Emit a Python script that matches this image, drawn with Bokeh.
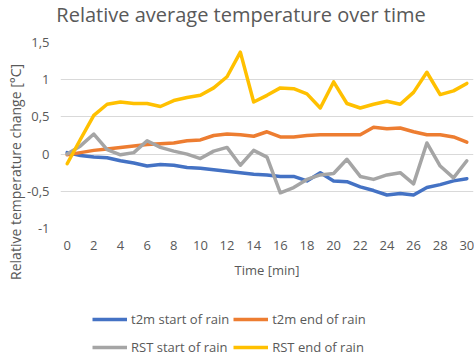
from bokeh.plotting import figure
from bokeh.layouts import column
from bokeh.models import Range1d, FixedTicker, CustomJSTickFormatter, Legend, LegendItem, Title
from bokeh.embed import file_html
from bokeh.resources import INLINE

minutes = list(range(31))
t2m_start = [0.02, -0.02, -0.04, -0.05, -0.09, -0.12, -0.16, -0.14, -0.15, -0.18, -0.19,
             -0.21, -0.23, -0.25, -0.27, -0.28, -0.30, -0.30, -0.36, -0.25, -0.36,
             -0.37, -0.44, -0.49, -0.55, -0.53, -0.55, -0.45, -0.41, -0.36, -0.33]
t2m_end = [-0.01, 0.02, 0.05, 0.07, 0.09, 0.11, 0.13, 0.14, 0.15, 0.18, 0.19,
           0.25, 0.27, 0.26, 0.24, 0.30, 0.23, 0.23, 0.25, 0.26, 0.26,
           0.26, 0.26, 0.36, 0.34, 0.35, 0.30, 0.26, 0.26, 0.23, 0.16]
rst_start = [0.00, 0.11, 0.27, 0.06, -0.01, 0.02, 0.18, 0.09, 0.04, 0.00, -0.06,
             0.04, 0.09, -0.15, 0.05, -0.04, -0.52, -0.45, -0.34, -0.28, -0.26,
             -0.07, -0.30, -0.34, -0.28, -0.25, -0.40, 0.15, -0.16, -0.32, -0.09]
rst_end = [-0.13, 0.20, 0.52, 0.67, 0.70, 0.68, 0.68, 0.64, 0.72, 0.76, 0.79,
           0.89, 1.04, 1.37, 0.70, 0.79, 0.89, 0.88, 0.81, 0.62, 0.97,
           0.68, 0.62, 0.67, 0.71, 0.67, 0.83, 1.10, 0.80, 0.85, 0.95]

series_names = ["t2m start of rain", "t2m end of rain", "RST start of rain", "RST end of rain"]
series_values = [t2m_start, t2m_end, rst_start, rst_end]
series_colors = ["#4472C4", "#ED7D31", "#A5A5A5", "#FFC000"]

x_ticks = list(range(0, 31, 2))
y_ticks = [-1, -0.5, 0, 0.5, 1, 1.5]

title_text = "Relative average temperature over time"
x_label = "Time [min]"
y_label = "Relative temperature change [°C]"

FONT = "Open Sans"
TXT = "#595959"
NB = "\u00a0"
W = 474

# ---- title strip ----
tp = figure(width=W, height=34, output_backend="svg", toolbar_location=None,
            x_range=Range1d(0, 1), y_range=Range1d(0, 1),
            x_axis_location=None, y_axis_location=None,
            min_border_left=0, min_border_right=0, min_border_top=0, min_border_bottom=0)
tp.grid.visible = False
tp.outline_line_color = None
tp.title.text = title_text + NB * 10
tp.title.align = "center"
tp.title.vertical_align = "top"
tp.title.standoff = 0
tp.title.text_font = FONT
tp.title.text_font_size = "20px"
tp.title.text_font_style = "normal"
tp.title.text_color = TXT

# ---- main chart ----
p = figure(width=W, height=256, output_backend="svg", toolbar_location=None,
           x_range=Range1d(-0.5, 30.5), y_range=Range1d(-1, 1.5),
           min_border_left=60, min_border_right=1, min_border_top=8, min_border_bottom=62)
p.outline_line_color = None
p.background_fill_color = "white"
p.title.text_font_size = "1px"
p.title.standoff = 0

renderers = []
for vals, col in zip(series_values, series_colors):
    r = p.line(minutes, vals, line_color=col, line_width=3.5, line_join="round", line_cap="round")
    renderers.append(r)

p.xgrid.visible = False
p.ygrid.grid_line_color = "#D9D9D9"
p.ygrid.grid_line_width = 1

for ax in (p.xaxis, p.yaxis):
    ax.axis_line_color = None
    ax.major_tick_line_color = None
    ax.minor_tick_line_color = None
    ax.major_tick_in = 0
    ax.major_tick_out = 0
    ax.minor_tick_in = 0
    ax.minor_tick_out = 0
    ax.major_label_text_font = FONT
    ax.major_label_text_color = TXT
    ax.major_label_text_font_size = "13px"
    ax.axis_label_text_font = FONT
    ax.axis_label_text_font_style = "normal"
    ax.axis_label_text_color = TXT

p.xaxis.ticker = FixedTicker(ticks=x_ticks)
p.yaxis.ticker = FixedTicker(ticks=y_ticks)
p.yaxis.formatter = CustomJSTickFormatter(code="return tick.toString().replace('.', ',');")
p.xaxis.major_label_standoff = 12
p.yaxis.major_label_standoff = 11

p.xaxis.axis_label = x_label
p.xaxis.axis_label_text_font_size = "13px"
p.xaxis.axis_label_standoff = 8

ylab = Title(text=y_label + NB * 20, align="center", standoff=0,
             text_font=FONT, text_font_size="14px", text_font_style="normal", text_color=TXT)
p.add_layout(ylab, "left")

# ---- legend strip ----
lg = figure(width=W, height=63, output_backend="svg", toolbar_location=None,
            x_range=Range1d(100, 101), y_range=Range1d(100, 101),
            min_border_left=0, min_border_right=0, min_border_top=0, min_border_bottom=0)
lg.axis.visible = False
lg.grid.visible = False
lg.outline_line_color = None
lg.title.text_font_size = "1px"
lg.title.standoff = 0
keys = [lg.line(minutes, vals, line_color=c, line_width=3.5)
        for vals, c in zip(series_values, series_colors)]
items = [LegendItem(label=n, renderers=[r]) for n, r in zip(series_names, keys)]
legend = Legend(items=items, location=(32, -6), orientation="horizontal", ncols=2,
                glyph_width=35, glyph_height=24, label_height=24, label_standoff=4, spacing=4,
                padding=2, margin=0, border_line_color=None, background_fill_alpha=0,
                label_text_font=FONT, label_text_font_size="13px", label_text_color=TXT)
lg.add_layout(legend, "center")

layout = column(tp, p, lg, spacing=0)
open("out.html", "w").write(file_html(layout, INLINE))
